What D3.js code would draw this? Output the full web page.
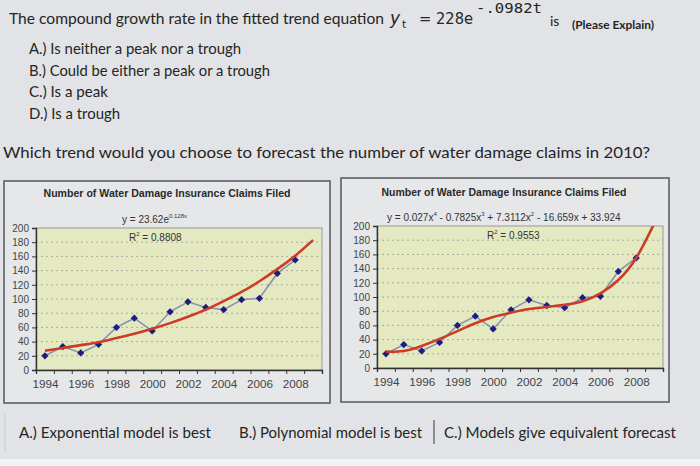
<!DOCTYPE html>
<html>
<head>
<meta charset="utf-8">
<script src="https://cdn.jsdelivr.net/npm/d3@7"></script>
<style>
  body { margin: 0; background: #e1e3e6; }
  svg { display: block; }
</style>
</head>
<body>
<div id="chart"></div>
<script>
// data
const years = [1994, 1995, 1996, 1997, 1998, 1999, 2000, 2001, 2002, 2003, 2004, 2005, 2006, 2007, 2008];
const claims = [20, 33, 24, 36, 60, 73, 55, 82, 96, 88, 85, 99, 101, 136, 155];
// trend lines, one period of forecast (2009)
const trendYears = [1994, 1995, 1996, 1997, 1998, 1999, 2000, 2001, 2002, 2003, 2004, 2005, 2006, 2007, 2008, 2009];
const expTrend = [27, 31, 35, 39, 45, 51, 58, 66, 75, 85, 97, 110, 125, 142, 161, 183];
const polyTrend = [23, 24, 31, 41, 52, 63, 72, 78, 83, 86, 89, 94, 105, 124, 155, 203];
const yTicks = [0, 20, 40, 60, 80, 100, 120, 140, 160, 180, 200];
const xTickLabels = [1994, 1996, 1998, 2000, 2002, 2004, 2006, 2008];

const options = ["A.) Is neither a peak nor a trough", "B.) Could be either a peak or a trough", "C.) Is a peak", "D.) Is a trough"];
const answers = ["A.) Exponential model is best", "B.) Polynomial model is best", "C.) Models give equivalent forecast"];

const W = 700, H = 466;
const svg = d3.select("#chart").append("svg").attr("width", W).attr("height", H);

svg.append("rect").attr("width", W).attr("height", H).attr("fill", "#e1e3e6");
svg.append("rect").attr("y", 459).attr("width", W).attr("height", 7).attr("fill", "#f1f2f3");

const qFont = "Lato, 'Open Sans', sans-serif";
const ink = "#252525";

// question line
const t1 = svg.append("g").attr("fill", ink);
t1.append("text").attr("x", 9).attr("y", 24).style("font", "15.5px " + qFont)
  .attr("textLength", 375).attr("lengthAdjust", "spacingAndGlyphs")
  .text("The compound growth rate in the fitted trend equation");
const yt = t1.append("text").attr("x", 390).attr("y", 24).style("font", "17px 'DejaVu Sans'");
yt.append("tspan").style("font-style", "italic").text("y");
yt.append("tspan").attr("dx", 2).attr("dy", 4).style("font-size", "11px").text("t");
t1.append("text").attr("x", 419).attr("y", 24).style("font", "16px 'DejaVu Sans'")
  .attr("textLength", 54).attr("lengthAdjust", "spacingAndGlyphs").text("= 228e");
t1.append("text").attr("x", 476).attr("y", 13).style("font", "14px 'DejaVu Sans Mono'")
  .attr("textLength", 66).attr("lengthAdjust", "spacingAndGlyphs").text("-.0982t");
t1.append("text").attr("x", 550).attr("y", 26).style("font", "14px " + qFont).text("is");
t1.append("text").attr("x", 572).attr("y", 29).style("font", "bold 10.5px " + qFont)
  .attr("textLength", 82).attr("lengthAdjust", "spacingAndGlyphs").text("(Please Explain)");

const optLen = [212, 241, 79, 91];
svg.append("g").attr("fill", ink).style("font", "15px " + qFont)
  .selectAll("text").data(options).join("text")
  .attr("x", 29).attr("y", (d, i) => 54 + i * 21.5)
  .attr("textLength", (d, i) => optLen[i]).attr("lengthAdjust", "spacingAndGlyphs")
  .text(d => d);

svg.append("text").attr("x", 3).attr("y", 158).attr("fill", ink).style("font", "16px " + qFont)
  .attr("textLength", 647).attr("lengthAdjust", "spacingAndGlyphs")
  .text("Which trend would you choose to forecast the number of water damage claims in 2010?");

// answers at the bottom
const ansX = [19, 239, 444], ansLen = [192, 183, 232];
svg.append("g").attr("fill", ink).style("font", "16px " + qFont)
  .selectAll("text").data(answers).join("text")
  .attr("x", (d, i) => ansX[i]).attr("y", 438)
  .attr("textLength", (d, i) => ansLen[i]).attr("lengthAdjust", "spacingAndGlyphs")
  .text(d => d);
svg.append("line").attr("x1", 434).attr("x2", 434).attr("y1", 420).attr("y2", 444)
  .attr("stroke", "#555").attr("stroke-width", 1.2);
svg.append("line").attr("x1", 5).attr("x2", 5).attr("y1", 414).attr("y2", 452)
  .attr("stroke", "#c8cacd").attr("stroke-width", 1);

function drawChart(cfg) {
  const g = svg.append("g");
  g.append("rect").attr("x", cfg.box[0]).attr("y", cfg.box[1])
    .attr("width", cfg.box[2] - cfg.box[0]).attr("height", cfg.box[3] - cfg.box[1])
    .attr("fill", "#e5e7e9").attr("stroke", "#5d5f63").attr("stroke-width", 1.6);

  const x = d3.scaleLinear().domain([1993.5, 2009.5]).range([cfg.plot[0], cfg.plot[2]]);
  const y = d3.scaleLinear().domain([0, 200]).range([cfg.plot[3], cfg.plot[1]]);

  g.append("rect").attr("x", cfg.plot[0]).attr("y", cfg.plot[1])
    .attr("width", cfg.plot[2] - cfg.plot[0]).attr("height", cfg.plot[3] - cfg.plot[1])
    .attr("fill", "#e4e9c1").attr("stroke", "#9a9c98").attr("stroke-width", 1);

  // dashed gridlines
  g.append("g").selectAll("line").data(yTicks.slice(1, -1)).join("line")
    .attr("x1", cfg.plot[0]).attr("x2", cfg.plot[2])
    .attr("y1", d => y(d)).attr("y2", d => y(d))
    .attr("stroke", "#a9ab9c").attr("stroke-width", 1).attr("stroke-dasharray", "2,3");

  const clipId = "clip" + cfg.id;
  g.append("clipPath").attr("id", clipId).append("rect")
    .attr("x", cfg.plot[0]).attr("y", cfg.plot[1])
    .attr("width", cfg.plot[2] - cfg.plot[0]).attr("height", cfg.plot[3] - cfg.plot[1]);

  // y axis
  const ya = g.append("g").attr("transform", `translate(${cfg.plot[0]},0)`)
    .call(d3.axisLeft(y).tickValues(yTicks).tickSize(4).tickPadding(3));
  ya.select(".domain").attr("stroke", "#333").attr("stroke-width", 1.4);
  ya.selectAll(".tick line").attr("stroke", "#333");
  ya.selectAll("text").attr("fill", "#444").style("font", "10px 'Liberation Sans', Arial, sans-serif");

  // x axis: ticks between categories, labels every other year
  const xa = g.append("g").attr("transform", `translate(0,${cfg.plot[3]})`)
    .call(d3.axisBottom(x).tickValues(d3.range(1993.5, 2010, 1)).tickSize(4).tickFormat(""));
  xa.select(".domain").attr("stroke", "#333").attr("stroke-width", 1.4);
  xa.selectAll(".tick line").attr("stroke", "#333");
  const xl = g.append("g").attr("transform", `translate(0,${cfg.plot[3]})`)
    .call(d3.axisBottom(x).tickValues(xTickLabels).tickSize(0).tickPadding(11).tickFormat(d3.format("d")));
  xl.select(".domain").remove();
  xl.selectAll("text").attr("fill", "#444").style("font", "10px 'Liberation Sans', Arial, sans-serif")
    .attr("textLength", 26).attr("lengthAdjust", "spacingAndGlyphs");

  // data series
  const line = d3.line().x((d, i) => x(years[i])).y(d => y(d));
  g.append("path").datum(claims).attr("d", line)
    .attr("fill", "none").attr("stroke", "#8793b2").attr("stroke-width", 1.6);
  g.append("g").selectAll("path").data(claims).join("path")
    .attr("d", d3.symbol(d3.symbolDiamond2, 34))
    .attr("transform", (d, i) => `translate(${x(years[i])},${y(d)})`)
    .attr("fill", "#1b1d80");

  // trend
  const tline = d3.line().curve(d3.curveNatural).x((d, i) => x(trendYears[i])).y(d => y(d));
  g.append("path").datum(cfg.trend).attr("d", tline).attr("clip-path", `url(#${clipId})`)
    .attr("fill", "none").attr("stroke", "#cc3b26").attr("stroke-width", 2.6);

  // titles
  const cf = "'Liberation Sans', Arial, sans-serif";
  g.append("text").attr("x", cfg.title[0]).attr("y", cfg.title[1]).attr("text-anchor", "middle")
    .attr("fill", "#2a2a2a").style("font", "bold 10px " + cf)
    .attr("textLength", cfg.title[2]).attr("lengthAdjust", "spacingAndGlyphs")
    .text("Number of Water Damage Insurance Claims Filed");

  const eq = g.append("text").attr("x", cfg.eq[0]).attr("y", cfg.eq[1])
    .attr("fill", "#333").style("font", "10px " + cf);
  cfg.eqParts.forEach(p => {
    const ts = eq.append("tspan").text(p[0]);
    if (p[1] === "sup") ts.attr("dy", -5).style("font-size", "6px");
    if (p[1] === "back") ts.attr("dy", 5);
  });

  const r2 = g.append("text").attr("x", cfg.r2[0]).attr("y", cfg.r2[1])
    .attr("fill", "#333").style("font", "10px " + cf);
  r2.append("tspan").text("R");
  r2.append("tspan").attr("dy", -5).style("font-size", "6px").text("2");
  r2.append("tspan").attr("dy", 5).text(" = " + cfg.r2[2]);
}

drawChart({
  id: "exp",
  box: [4, 181, 330, 403],
  plot: [36, 228, 322, 370],
  trend: expTrend,
  title: [167, 197, 247],
  eq: [122, 223],
  eqParts: [["y = 23.62e", ""], ["0.128x", "sup"]],
  r2: [129, 241, "0.8808"]
});

drawChart({
  id: "poly",
  box: [341, 178, 669, 402],
  plot: [377, 226, 663, 368],
  trend: polyTrend,
  title: [504, 196, 245],
  eq: [387, 221],
  eqParts: [["y = 0.027x", ""], ["4", "sup"], [" - 0.7825x", "back"], ["3", "sup"], [" + 7.3112x", "back"], ["2", "sup"], [" - 16.659x + 33.924", "back"]],
  r2: [487, 239, "0.9553"]
});
</script>
</body>
</html>
